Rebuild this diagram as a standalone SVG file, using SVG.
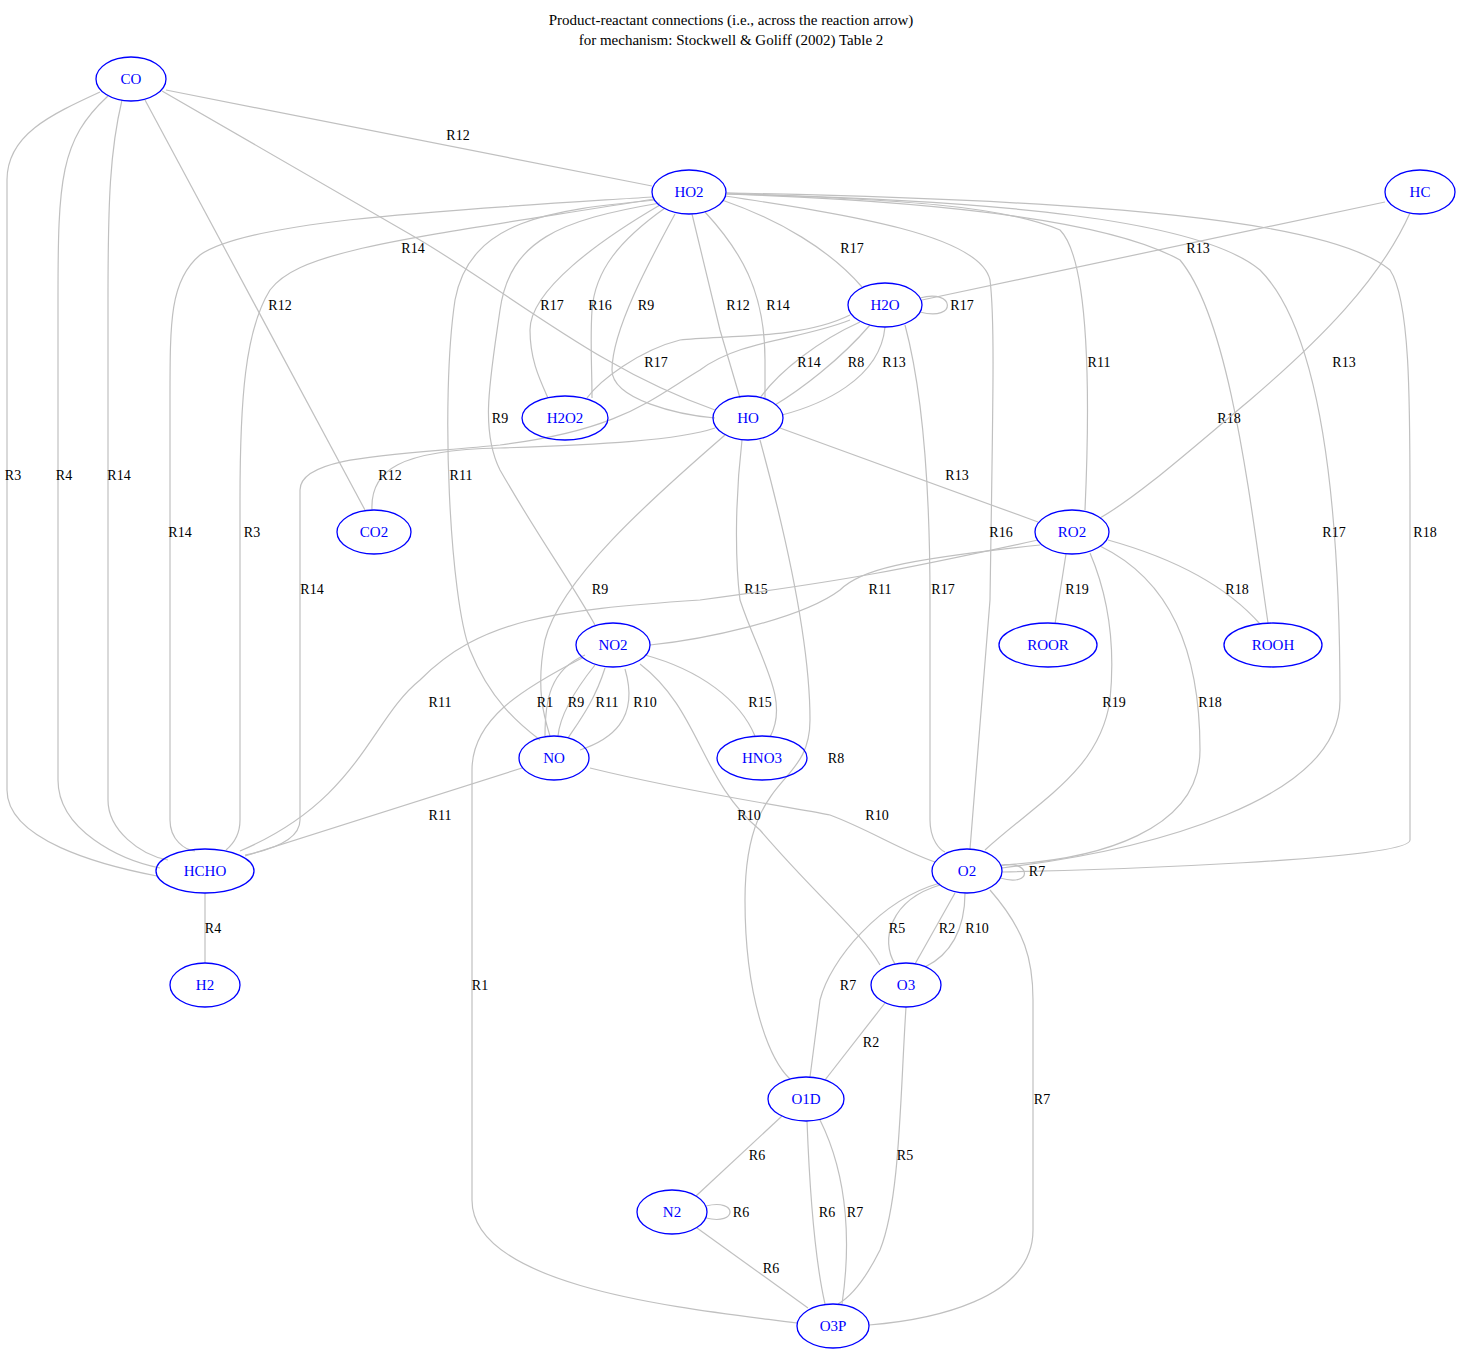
<svg xmlns="http://www.w3.org/2000/svg" width="1463" height="1356" viewBox="0 0 1463 1356">
<style>
.e{fill:none;stroke:#c0c0c0;stroke-width:1.2}
.l{font-family:'Liberation Serif','Times New Roman','DejaVu Serif',serif;font-size:14px;fill:#000;text-anchor:middle}
.n ellipse{fill:none;stroke:#0000ff;stroke-width:1.3}
.n text{font-family:'Liberation Serif','Times New Roman','DejaVu Serif',serif;font-size:15px;fill:#0000ff;text-anchor:middle}
.t{font-family:'Liberation Serif','Times New Roman','DejaVu Serif',serif;font-size:15px;fill:#000;text-anchor:middle}
</style>
<rect width="1463" height="1356" fill="#fff"/>
<text class="t" x="731" y="25">Product-reactant connections (i.e., across the reaction arrow)</text>
<text class="t" x="731" y="45">for mechanism: Stockwell &amp; Goliff (2002) Table 2</text>
<g id="edges">
<path class="e" d="M166,90 L652,186"/><text class="l" x="458" y="140">R12</text>
<path class="e" d="M100,92 C50,115 7,135 7,180 L7,790 C7,840 100,865 157,876"/><text class="l" x="13" y="480">R3</text>
<path class="e" d="M108,96 C60,140 58,180 58,300 L58,780 C58,830 120,860 160,868"/><text class="l" x="64" y="480">R4</text>
<path class="e" d="M122,100 C110,150 108,200 108,300 L108,800 C108,830 140,855 168,860"/><text class="l" x="119" y="480">R14</text>
<path class="e" d="M145,100 L365,510"/><text class="l" x="280" y="310">R12</text>
<path class="e" d="M162,91 L420,240 C520,300 600,370 715,410"/><text class="l" x="413" y="253">R14</text>
<path class="e" d="M652,197 C450,210 250,220 200,255 C170,280 170,320 170,400 L170,820 C170,840 185,850 195,851"/><text class="l" x="180" y="537">R14</text>
<path class="e" d="M654,199 C400,240 300,250 270,290 C245,330 240,400 240,500 L240,820 C240,835 232,845 226,850"/><text class="l" x="252" y="537">R3</text>
<path class="e" d="M655,200 C550,210 470,220 455,300 C440,400 450,600 470,650 C490,700 520,725 540,740"/><text class="l" x="461" y="480">R11</text>
<path class="e" d="M660,203 C560,220 510,240 500,310 C490,380 480,430 500,470 C540,540 570,580 595,625"/><text class="l" x="500" y="423">R9</text>
<path class="e" d="M660,205 C600,240 530,290 530,330 C530,360 540,380 548,398"/><text class="l" x="552" y="310">R17</text>
<path class="e" d="M665,208 C620,240 595,270 592,310 C590,340 592,370 592,398"/><text class="l" x="600" y="310">R16</text>
<path class="e" d="M675,214 C650,260 612,330 612,370 C612,400 680,415 715,418"/><text class="l" x="646" y="310">R9</text>
<path class="e" d="M692,214 L720,330 L740,398"/><text class="l" x="738" y="310">R12</text>
<path class="e" d="M705,212 C740,250 765,290 765,360 L765,398"/><text class="l" x="778" y="310">R14</text>
<path class="e" d="M722,200 C780,220 830,250 862,287"/><text class="l" x="852" y="253">R17</text>
<path class="e" d="M725,196 C850,215 980,235 990,280 C995,320 993,400 990,600 L970,849"/><text class="l" x="1001" y="537">R16</text>
<path class="e" d="M726,193 C900,200 1000,205 1060,230 C1090,260 1090,400 1085,510"/><text class="l" x="1099" y="367">R11</text>
<path class="e" d="M726,194 C900,200 1100,215 1180,260 C1230,320 1250,500 1268,623"/><text class="l" x="1229" y="423">R18</text>
<path class="e" d="M727,194 C1000,200 1200,220 1260,270 C1320,330 1340,500 1340,700 C1340,800 1150,850 1002,868"/><text class="l" x="1334" y="537">R17</text>
<path class="e" d="M727,193 C1100,200 1330,220 1390,270 C1410,300 1410,400 1410,500 L1410,840 C1410,860 1100,870 1002,872"/><text class="l" x="1425" y="537">R18</text>
<path class="e" d="M1385,202 L922,300"/><text class="l" x="1198" y="253">R13</text>
<path class="e" d="M1410,213 C1380,280 1320,340 1250,400 C1190,450 1140,495 1100,518"/><text class="l" x="1344" y="367">R13</text>
<path class="e" d="M920,298 C955,288 958,322 920,312"/><text class="l" x="962" y="310">R17</text>
<path class="e" d="M850,315 C800,340 720,335 680,340 C640,350 600,380 587,398"/><text class="l" x="656" y="367">R17</text>
<path class="e" d="M850,320 C800,340 740,340 700,370 C650,400 620,430 500,445 C400,455 300,455 300,490 L300,820 C300,840 270,850 245,855"/><text class="l" x="312" y="594">R14</text>
<path class="e" d="M715,428 C680,440 600,445 500,448 C400,450 370,470 372,510"/><text class="l" x="390" y="480">R12</text>
<path class="e" d="M860,322 C820,340 780,370 760,398"/><text class="l" x="809" y="367">R14</text>
<path class="e" d="M870,325 C840,360 800,390 775,405"/><text class="l" x="856" y="367">R8</text>
<path class="e" d="M885,327 C880,380 820,405 782,415"/><text class="l" x="894" y="367">R13</text>
<path class="e" d="M905,325 C925,400 930,500 930,600 L930,820 C930,840 940,850 945,852"/><text class="l" x="943" y="594">R17</text>
<path class="e" d="M780,428 L1038,522"/><text class="l" x="957" y="480">R13</text>
<path class="e" d="M725,435 C650,500 560,580 545,640 C535,690 545,720 550,736"/><text class="l" x="600" y="594">R9</text>
<path class="e" d="M742,440 C735,500 735,560 740,600 C760,660 790,700 770,737"/><text class="l" x="756" y="594">R15</text>
<path class="e" d="M760,440 C790,550 810,650 810,720 C810,790 745,770 745,900 C745,1000 770,1060 790,1079"/><text class="l" x="836" y="763">R8</text>
<path class="e" d="M1038,540 C900,570 850,580 700,600 C550,610 480,620 420,680 C370,720 360,800 240,851"/><text class="l" x="440" y="707">R11</text>
<path class="e" d="M1040,545 C900,560 860,570 840,590 C800,620 700,640 650,645"/><text class="l" x="880" y="594">R11</text>
<path class="e" d="M1066,554 L1055,624"/><text class="l" x="1077" y="594">R19</text>
<path class="e" d="M1108,540 C1180,560 1230,590 1260,624"/><text class="l" x="1237" y="594">R18</text>
<path class="e" d="M1090,553 C1110,600 1115,650 1110,700 C1100,770 1040,800 985,850"/><text class="l" x="1114" y="707">R19</text>
<path class="e" d="M1100,546 C1170,580 1200,650 1200,750 C1200,830 1100,860 1000,865"/><text class="l" x="1210" y="707">R18</text>
<path class="e" d="M585,655 C550,670 545,700 545,736"/><text class="l" x="545" y="707">R1</text>
<path class="e" d="M595,665 C575,690 560,715 558,736"/><text class="l" x="576" y="707">R9</text>
<path class="e" d="M605,668 C595,700 580,720 568,738"/><text class="l" x="607" y="707">R11</text>
<path class="e" d="M625,669 C640,720 610,740 580,750"/><text class="l" x="645" y="707">R10</text>
<path class="e" d="M645,655 C700,670 740,700 755,736"/><text class="l" x="760" y="707">R15</text>
<path class="e" d="M640,664 C700,710 700,780 760,830 C820,900 860,930 880,965"/><text class="l" x="749" y="820">R10</text>
<path class="e" d="M582,658 C520,690 472,720 472,770 L472,1200 C472,1290 700,1310 797,1323"/><text class="l" x="480" y="990">R1</text>
<path class="e" d="M522,768 L245,856"/><text class="l" x="440" y="820">R11</text>
<path class="e" d="M590,768 C700,795 810,810 830,815 C870,830 900,850 935,862"/><text class="l" x="877" y="820">R10</text>
<path class="e" d="M205,893 L205,963"/><text class="l" x="213" y="933">R4</text>
<path class="e" d="M1000,866 C1030,858 1035,888 1000,878"/><text class="l" x="1037" y="876">R7</text>
<path class="e" d="M940,885 C890,900 880,940 895,964"/><text class="l" x="897" y="933">R5</text>
<path class="e" d="M955,893 L915,964"/><text class="l" x="947" y="933">R2</text>
<path class="e" d="M965,893 C965,930 950,955 925,967"/><text class="l" x="977" y="933">R10</text>
<path class="e" d="M940,883 C880,900 830,960 820,1000 C815,1040 812,1060 810,1077"/><text class="l" x="848" y="990">R7</text>
<path class="e" d="M990,890 C1025,930 1033,960 1033,1000 L1033,1230 C1033,1300 930,1320 869,1325"/><text class="l" x="1042" y="1104">R7</text>
<path class="e" d="M885,1003 L825,1080"/><text class="l" x="871" y="1047">R2</text>
<path class="e" d="M906,1007 C900,1100 900,1200 880,1250 C860,1290 845,1300 838,1304"/><text class="l" x="905" y="1160">R5</text>
<path class="e" d="M782,1116 L696,1196"/><text class="l" x="757" y="1160">R6</text>
<path class="e" d="M807,1121 C810,1200 815,1260 825,1304"/><text class="l" x="827" y="1217">R6</text>
<path class="e" d="M820,1120 C850,1180 850,1250 842,1304"/><text class="l" x="855" y="1217">R7</text>
<path class="e" d="M706,1206 C738,1198 738,1226 706,1218"/><text class="l" x="741" y="1217">R6</text>
<path class="e" d="M697,1228 L808,1308"/><text class="l" x="771" y="1273">R6</text>
</g>
<g id="CO" class="n"><ellipse cx="131" cy="79" rx="35" ry="22"/><text x="131" y="84">CO</text></g>
<g id="HO2" class="n"><ellipse cx="689" cy="192" rx="37" ry="22"/><text x="689" y="197">HO2</text></g>
<g id="HC" class="n"><ellipse cx="1420" cy="192" rx="35" ry="22"/><text x="1420" y="197">HC</text></g>
<g id="H2O" class="n"><ellipse cx="885" cy="305" rx="37" ry="22"/><text x="885" y="310">H2O</text></g>
<g id="H2O2" class="n"><ellipse cx="565" cy="418" rx="43" ry="22"/><text x="565" y="423">H2O2</text></g>
<g id="HO" class="n"><ellipse cx="748" cy="418" rx="35" ry="22"/><text x="748" y="423">HO</text></g>
<g id="CO2" class="n"><ellipse cx="374" cy="532" rx="37" ry="22"/><text x="374" y="537">CO2</text></g>
<g id="RO2" class="n"><ellipse cx="1072" cy="532" rx="37" ry="22"/><text x="1072" y="537">RO2</text></g>
<g id="NO2" class="n"><ellipse cx="613" cy="645" rx="37" ry="22"/><text x="613" y="650">NO2</text></g>
<g id="ROOR" class="n"><ellipse cx="1048" cy="645" rx="49" ry="22"/><text x="1048" y="650">ROOR</text></g>
<g id="ROOH" class="n"><ellipse cx="1273" cy="645" rx="49" ry="22"/><text x="1273" y="650">ROOH</text></g>
<g id="NO" class="n"><ellipse cx="554" cy="758" rx="35" ry="22"/><text x="554" y="763">NO</text></g>
<g id="HNO3" class="n"><ellipse cx="762" cy="758" rx="45" ry="22"/><text x="762" y="763">HNO3</text></g>
<g id="HCHO" class="n"><ellipse cx="205" cy="871" rx="49" ry="22"/><text x="205" y="876">HCHO</text></g>
<g id="O2" class="n"><ellipse cx="967" cy="871" rx="35" ry="22"/><text x="967" y="876">O2</text></g>
<g id="H2" class="n"><ellipse cx="205" cy="985" rx="35" ry="22"/><text x="205" y="990">H2</text></g>
<g id="O3" class="n"><ellipse cx="906" cy="985" rx="35" ry="22"/><text x="906" y="990">O3</text></g>
<g id="O1D" class="n"><ellipse cx="806" cy="1099" rx="38" ry="22"/><text x="806" y="1104">O1D</text></g>
<g id="N2" class="n"><ellipse cx="672" cy="1212" rx="35" ry="22"/><text x="672" y="1217">N2</text></g>
<g id="O3P" class="n"><ellipse cx="833" cy="1326" rx="36" ry="22"/><text x="833" y="1331">O3P</text></g>
</svg>
